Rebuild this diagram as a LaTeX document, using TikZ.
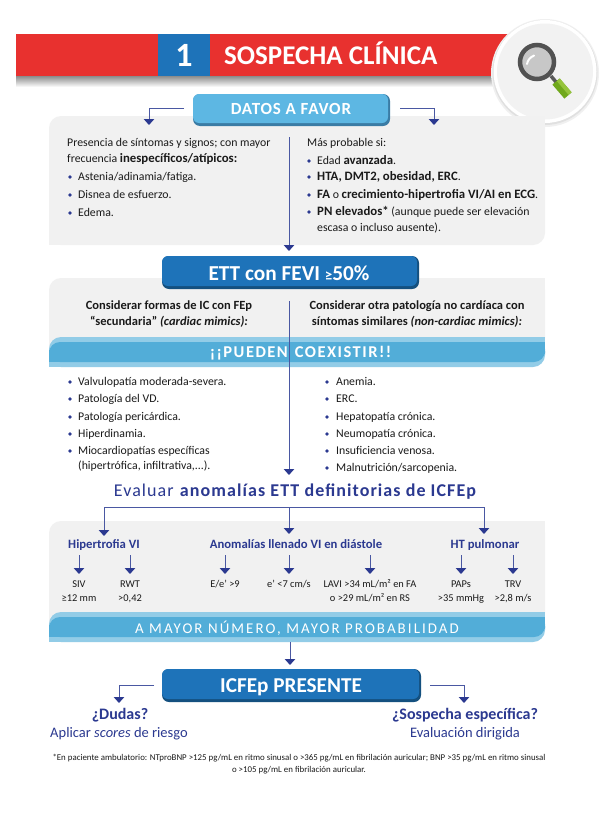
\documentclass[tikz,border=0pt]{standalone}
\usepackage{fontspec}
\setmainfont{Carlito}
\usetikzlibrary{arrows.meta,calc}
\definecolor{navy}{HTML}{2B3990}
\definecolor{lin}{HTML}{4A58A2}
\definecolor{redb}{HTML}{E8312F}
\definecolor{blueb}{HTML}{1E73B9}
\definecolor{blued}{HTML}{14507F}
\definecolor{skyb}{HTML}{5DB7E3}
\definecolor{skyd}{HTML}{3A7CA5}
\definecolor{band}{HTML}{52ADD8}
\definecolor{bandl}{HTML}{92CCE7}
\definecolor{pan}{HTML}{F1F1F1}
\definecolor{ink}{HTML}{1A1A1A}
\newcommand{\fsz}[2]{\fontsize{#1}{#2}\selectfont}
\newcommand{\bb}[1]{{\fsz{12.8}{13}\bfseries #1}}
\tikzset{
  x=1pt,y=-1pt,
  arr/.style={draw=lin,line width=1pt,-{Triangle[width=10.5pt,length=6pt,color=navy]}},
  plain/.style={draw=lin,line width=1pt},
  txt/.style={inner sep=0pt,text=ink,font=\fsz{11.8}{13},text height=8pt,text depth=0.5pt},
  body/.style={txt,anchor=west},
  dot/.style={circle,fill=navy,inner sep=0pt,minimum size=3.8pt},
  small/.style={inner sep=0pt,text=ink,font=\fsz{10.4}{12},text height=7pt,text depth=0pt},
  head/.style={inner sep=0pt,text=navy,font=\fsz{12.7}{15}\bfseries,text height=9pt,text depth=1pt},
  boxlabel/.style={inner sep=0pt,text=white,font=\bfseries},
  strong/.style={txt,font=\fsz{12.5}{13}\bfseries},
  big/.style={inner sep=0pt,text=navy,font=\fsz{16}{17}\bfseries,text height=10pt,text depth=1pt},
  bigl/.style={inner sep=0pt,text=navy,font=\fsz{14.5}{16},text height=10pt,text depth=1pt},
}
\newcommand{\panel}[5]{% colour x0 y0 x1 y1
  \fill[#1,rounded corners=12pt] (#2,#3) rectangle (#4,#5);
  \fill[#1] (#2,#5) rectangle ($(#2,#5)+(14,-14)$);
  \fill[#1] (#4,#3) rectangle ($(#4,#3)+(-14,14)$);
}
\newcommand{\bandbox}[2]{% y0 y1
  \panel{bandl}{49}{#1}{545}{#2}
  \fill[band,rounded corners=11pt] (49,#1+5) rectangle (545,#2-5);
  \fill[band] (49,#2-5) rectangle (62,#2-17);
  \fill[band] (545,#1+5) rectangle (532,#1+17);
}
\newcommand{\raisedbox}[6]{% face dark x0 y0 x1 y1
  \fill[#2,rounded corners=7pt] (#3,#4) rectangle (#5,#6);
  \fill[#1,rounded corners=6pt] (#3,#4) rectangle (#5-2,#6-3);
}
\begin{document}
\begin{tikzpicture}
\useasboundingbox (0,0) rectangle (609,830);
\fill[white] (0,0) rectangle (609,830);
% header
\shade[top color=black!45,bottom color=white] (16,76) rectangle (505,87);
\fill[redb] (16,34) rectangle (581,76);
\fill[blueb] (158,34) rectangle (210,76);
\node[boxlabel,font=\fsz{34}{35}\bfseries] (num) at (184,55.5) {1};
\node[boxlabel,anchor=west,font=\fsz{27}{28}\bfseries] (title) at (224,53.5) {SOSPECHA CLÍNICA};
% magnifier badge
\fill[black!6] (545,73) circle (54);
\fill[black!12] (545,72.5) circle (52.5);
\fill[white] (545,71.5) circle (51.5);
\fill[black!5] (545,71.5) circle (48);
\draw[line width=3.5pt,black!65] (551,76) -- (556,82);
\draw[line width=9.5pt,color={rgb,255:red,112;green,168;blue,28}] (556,81.5) -- (568,95.5);
\draw[line width=4pt,color={rgb,255:red,150;green,196;blue,60}] (558.5,80) -- (570,93.5);
\draw[line width=4.5pt,black!68,fill=black!22] (537,62) circle (17);
\draw[line width=2pt,white,line cap=round] (527,64) arc[start angle=-170,end angle=-110,radius=11];
% panels
\panel{pan}{49}{116}{545}{245}
\fill[pan,rounded corners=12pt] (49,278) rectangle (545,350);
\fill[pan] (545,278) rectangle (530,350);
\fill[pan] (49,300) rectangle (70,350);
\bandbox{337}{367}
\fill[pan,rounded corners=12pt] (49,521) rectangle (545,625);
\fill[pan] (545,521) rectangle (530,625);
\fill[pan] (49,540) rectangle (70,625);
\bandbox{612}{642}
% raised boxes
\raisedbox{skyb}{skyd}{193}{94}{390}{126}
\node[boxlabel,font=\fsz{17}{18}\bfseries,text=white] (datos) at (291,109) {\addfontfeature{LetterSpace=5}DATOS A FAVOR};
\raisedbox{blueb}{blued}{162}{256}{419}{289}
\node[boxlabel,font=\fsz{21.3}{22}\bfseries] (ett) at (289,273) {ETT con FEVI {\fsz{15}{15}≥}50\%};
\raisedbox{blueb}{blued}{162}{669}{421}{702}
\node[boxlabel,font=\fsz{21.2}{22}\bfseries] (pres) at (291,687) {ICFEp PRESENTE};
% named connector ends
\coordinate (dl) at (184,108);
\coordinate (dlt) at (149,125);
\coordinate (dr) at (400,108);
\coordinate (drt) at (434,125);
\coordinate (v1s) at (289,137);
\coordinate (v1e) at (289,251);
\coordinate (v2s) at (289,301);
\coordinate (v2e) at (289,475);
\coordinate (tc) at (289,507);
\coordinate (tl) at (104,507);
\coordinate (tr) at (484,507);
\coordinate (tlt) at (104,536);
\coordinate (tct) at (289,534);
\coordinate (trt) at (484,534);
\coordinate (bs) at (290,642);
\coordinate (be) at (290,665);
\coordinate (pl) at (154,685);
\coordinate (plt) at (119,703);
\coordinate (pr) at (430,685);
\coordinate (prt) at (464,703);
\draw[arr] (dl) -| (dlt);
\draw[arr] (dr) -| (drt);
\draw[arr] (v1s) -- (v1e);
\draw[arr] (v2s) -- (v2e);
\draw[plain] (tl |- tc) -- (tr |- tc);
\draw[arr] (tc) -| (tlt);
\draw[arr] (tc) -- (tct);
\draw[arr] (tc) -| (trt);
\draw[arr] (bs) -- (be);
\draw[arr] (pl) -| (plt);
\draw[arr] (pr) -| (prt);
% panel 1 left
\node[body] (a1) at (67,143) {Presencia de síntomas y signos; con mayor};
\node[body] (a2) at (67,159) {frecuencia \bb{inespecíficos/atípicos:}};
\node[dot] (a3d) at (70,177) {}; \node[body] (a3) at (78,177) {Astenia/adinamia/fatiga.};
\node[dot] (a4d) at (70,195) {}; \node[body] (a4) at (78,195) {Disnea de esfuerzo.};
\node[dot] (a5d) at (70,213) {}; \node[body] (a5) at (78,213) {Edema.};
% panel 1 right
\node[body] (b1) at (307,143) {Más probable si:};
\node[dot] (b2d) at (309,161) {}; \node[body] (b2) at (317,161) {Edad \bb{avanzada}.};
\node[dot] (b3d) at (309,177) {}; \node[body] (b3) at (317,177) {\bb{HTA, DMT2, obesidad, ERC}.};
\node[dot] (b4d) at (309,195) {}; \node[body] (b4) at (317,195) {\bb{FA} o \bb{crecimiento-hipertrofia VI/AI en ECG}.};
\node[dot] (b5d) at (309,212) {}; \node[body] (b5) at (317,212) {\bb{PN elevados*} (aunque puede ser elevación};
\node[body] (b6) at (317,228) {escasa o incluso ausente).};
% panel 2
\node[strong] (c1) at (169,306) {Considerar formas de IC con FEp};
\node[strong] (c2) at (169,322) {“secundaria” \textit{(cardiac mimics):}};
\node[strong] (d1) at (417,306) {Considerar otra patología no cardíaca con};
\node[strong] (d2) at (417,322) {síntomas similares \textit{(non-cardiac mimics):}};
\node[boxlabel,font=\fsz{16.5}{17}\bfseries] (coex) at (300.5,353.5) {\addfontfeature{LetterSpace=9}¡¡PUEDEN\hspace{7pt}COEXISTIR!!};
% lists
\foreach \n/\y/\t in {1/382/Valvulopatía moderada-severa.,2/399/Patología del VD.,3/417/Patología pericárdica.,4/434/Hiperdinamia.,5/451/Miocardiopatías específicas}{
  \node[dot] (e\n d) at (70,\y) {};
  \node[body] (e\n) at (78,\y) {\t};
}
\node[body] (e6) at (78,466) {(hipertrófica, infiltrativa,...).};
\foreach \n/\y/\t in {1/382/Anemia.,2/399/ERC.,3/417/Hepatopatía crónica.,4/434/Neumopatía crónica.,5/451/Insuficiencia venosa.,6/468/{Malnutrición/sarcopenia.}}{
  \node[dot] (f\n d) at (327,\y) {};
  \node[body] (f\n) at (336,\y) {\t};
}
\node[inner sep=0pt,text=navy,font=\fsz{18}{19},text height=11pt,text depth=0pt] (eval) at (295.5,491) {\addfontfeature{LetterSpace=6}Evaluar \textbf{anomalías ETT definitorias de ICFEp}};
% panel 3
\node[head] (g1) at (104,544) {Hipertrofia VI};
\node[head] (g2) at (296,544) {Anomalías llenado VI en diástole};
\node[head] (g3) at (485,544) {HT pulmonar};
\foreach \n/\x in {1/79,2/130,3/225,4/289,5/370,6/461,7/513}{
  \coordinate (s\n) at (\x,555);
  \coordinate (t\n) at (\x,574);
  \draw[arr] (s\n) -- (t\n);
}
\node[small] (h1) at (79,584) {SIV};
\node[small] (h1b) at (79,598) {≥12 mm};
\node[small] (h2) at (130,584) {RWT};
\node[small] (h2b) at (130,598) {>0,42};
\node[small] (h3) at (225,584) {E/e' >9};
\node[small] (h4) at (289,584) {e' <7 cm/s};
\node[small] (h5) at (370,584) {LAVI >34 mL/m² en FA};
\node[small] (h5b) at (370,598) {o >29 mL/m² en RS};
\node[small] (h6) at (461,584) {PAPs};
\node[small] (h6b) at (461,598) {>35 mmHg};
\node[small] (h7) at (513,584) {TRV};
\node[small] (h7b) at (513,598) {>2,8 m/s};
\node[boxlabel,font=\fsz{14.9}{16}] (may) at (297,628) {\addfontfeature{LetterSpace=14}A MAYOR NÚMERO, MAYOR PROBABILIDAD};
% bottom
\node[big] (k1) at (120,715) {¿Dudas?};
\node[bigl] (k2) at (119,733) {Aplicar \textit{scores} de riesgo};
\node[big] (l1) at (465,715) {¿Sospecha específica?};
\node[bigl] (l2) at (465,733) {Evaluación dirigida};
\node[small,font=\fsz{8.85}{11}] (fn1) at (299,757) {*En paciente ambulatorio: NTproBNP >125 pg/mL en ritmo sinusal o >365 pg/mL en fibrilación auricular; BNP >35 pg/mL en ritmo sinusal};
\node[small,font=\fsz{8.85}{11}] (fn2) at (299,769) {o >105 pg/mL en fibrilación auricular.};
\end{tikzpicture}
\end{document}
